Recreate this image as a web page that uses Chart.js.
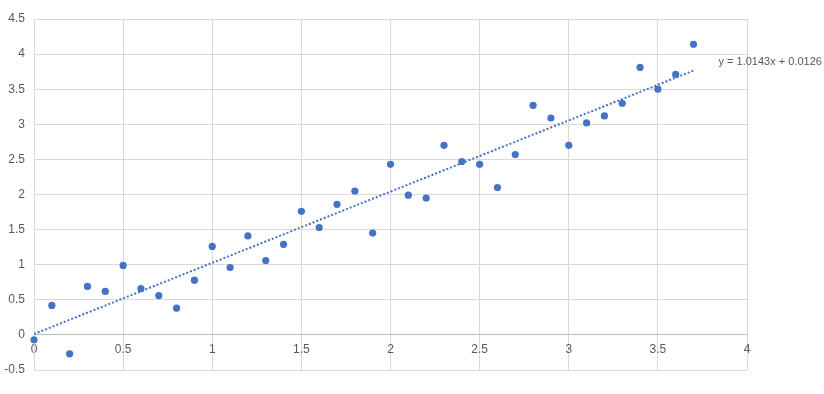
<!DOCTYPE html>
<html>
<head>
<meta charset="utf-8">
<script src="https://cdn.jsdelivr.net/npm/chart.js@4/dist/chart.umd.min.js"></script>
<style>
  html, body { margin: 0; padding: 0; background: #fff; }
  #chart { display: block; }
</style>
</head>
<body>
<canvas id="chart" width="824" height="394"></canvas>
<script>
const X_VALUES = [0, 0.1, 0.2, 0.3, 0.4, 0.5, 0.6, 0.7, 0.8, 0.9, 1, 1.1, 1.2, 1.3, 1.4, 1.5, 1.6, 1.7, 1.8, 1.9,
  2, 2.1, 2.2, 2.3, 2.4, 2.5, 2.6, 2.7, 2.8, 2.9, 3, 3.1, 3.2, 3.3, 3.4, 3.5, 3.6, 3.7];
const Y_VALUES = [-0.07, 0.42, -0.27, 0.69, 0.62, 0.99, 0.66, 0.56, 0.38, 0.78, 1.26, 0.96, 1.41, 1.06, 1.29, 1.76, 1.53, 1.86, 2.05, 1.45,
  2.43, 1.99, 1.95, 2.70, 2.47, 2.43, 2.10, 2.57, 3.27, 3.09, 2.70, 3.02, 3.12, 3.30, 3.81, 3.50, 3.71, 4.14];
const TREND_SLOPE = 1.0143;
const TREND_INTERCEPT = 0.0126;
const TREND_LABEL = "y = 1.0143x + 0.0126";

const BLUE = "#4472C4";
const GRID = "#d9d9d9";
const TEXT = "#595959";
const FONT = "'Liberation Sans', Arial, sans-serif";

const points = X_VALUES.map((x, i) => ({ x, y: Y_VALUES[i] }));
const trendX = [X_VALUES[0], X_VALUES[X_VALUES.length - 1]];
const trendPoints = trendX.map((x) => ({ x, y: TREND_SLOPE * x + TREND_INTERCEPT }));

// excel style numbers: 1 not 1.0
const fmt = (v) => String(Number(v.toFixed(1)));

const trendLabelPlugin = {
  id: "trendLabel",
  afterDatasetsDraw(chart) {
    const { ctx, scales } = chart;
    const last = trendPoints[trendPoints.length - 1];
    const px = scales.x.getPixelForValue(last.x) + 25;
    const py = scales.y.getPixelForValue(last.y) - 9;
    ctx.save();
    ctx.font = `11px ${FONT}`;
    ctx.fillStyle = TEXT;
    ctx.textAlign = "left";
    ctx.textBaseline = "middle";
    ctx.fillText(TREND_LABEL, px, py);
    ctx.restore();
  },
};

new Chart(document.getElementById("chart").getContext("2d"), {
  type: "scatter",
  data: {
    datasets: [
      {
        label: "data",
        data: points,
        backgroundColor: BLUE,
        borderWidth: 0,
        pointRadius: 3.6,
        pointHoverRadius: 3.6,
        clip: false,
      },
      {
        type: "line",
        label: "trend",
        data: trendPoints,
        borderColor: BLUE,
        borderWidth: 2,
        borderDash: [2, 2],
        pointRadius: 0,
        fill: false,
        tension: 0,
      },
    ],
  },
  options: {
    responsive: false,
    animation: false,
    layout: { padding: { top: 19, right: 77, bottom: 24, left: 0 } },
    plugins: {
      legend: { display: false },
      tooltip: { enabled: false },
    },
    scales: {
      x: {
        type: "linear",
        position: { y: 0 },
        min: 0,
        max: 4,
        ticks: {
          stepSize: 0.5,
          color: TEXT,
          font: { family: FONT, size: 12 },
          padding: 8,
          callback: fmt,
        },
        grid: { color: GRID, drawTicks: false },
        border: { color: "#bfbfbf", width: 1 },
      },
      y: {
        type: "linear",
        min: -0.5,
        max: 4.5,
        ticks: {
          stepSize: 0.5,
          color: TEXT,
          font: { family: FONT, size: 12 },
          padding: 9,
          callback: fmt,
        },
        grid: { color: GRID, drawTicks: false },
        border: { color: GRID },
        afterFit(scale) {
          scale.width = 34;
        },
      },
    },
  },
  plugins: [trendLabelPlugin],
});
</script>
</body>
</html>
